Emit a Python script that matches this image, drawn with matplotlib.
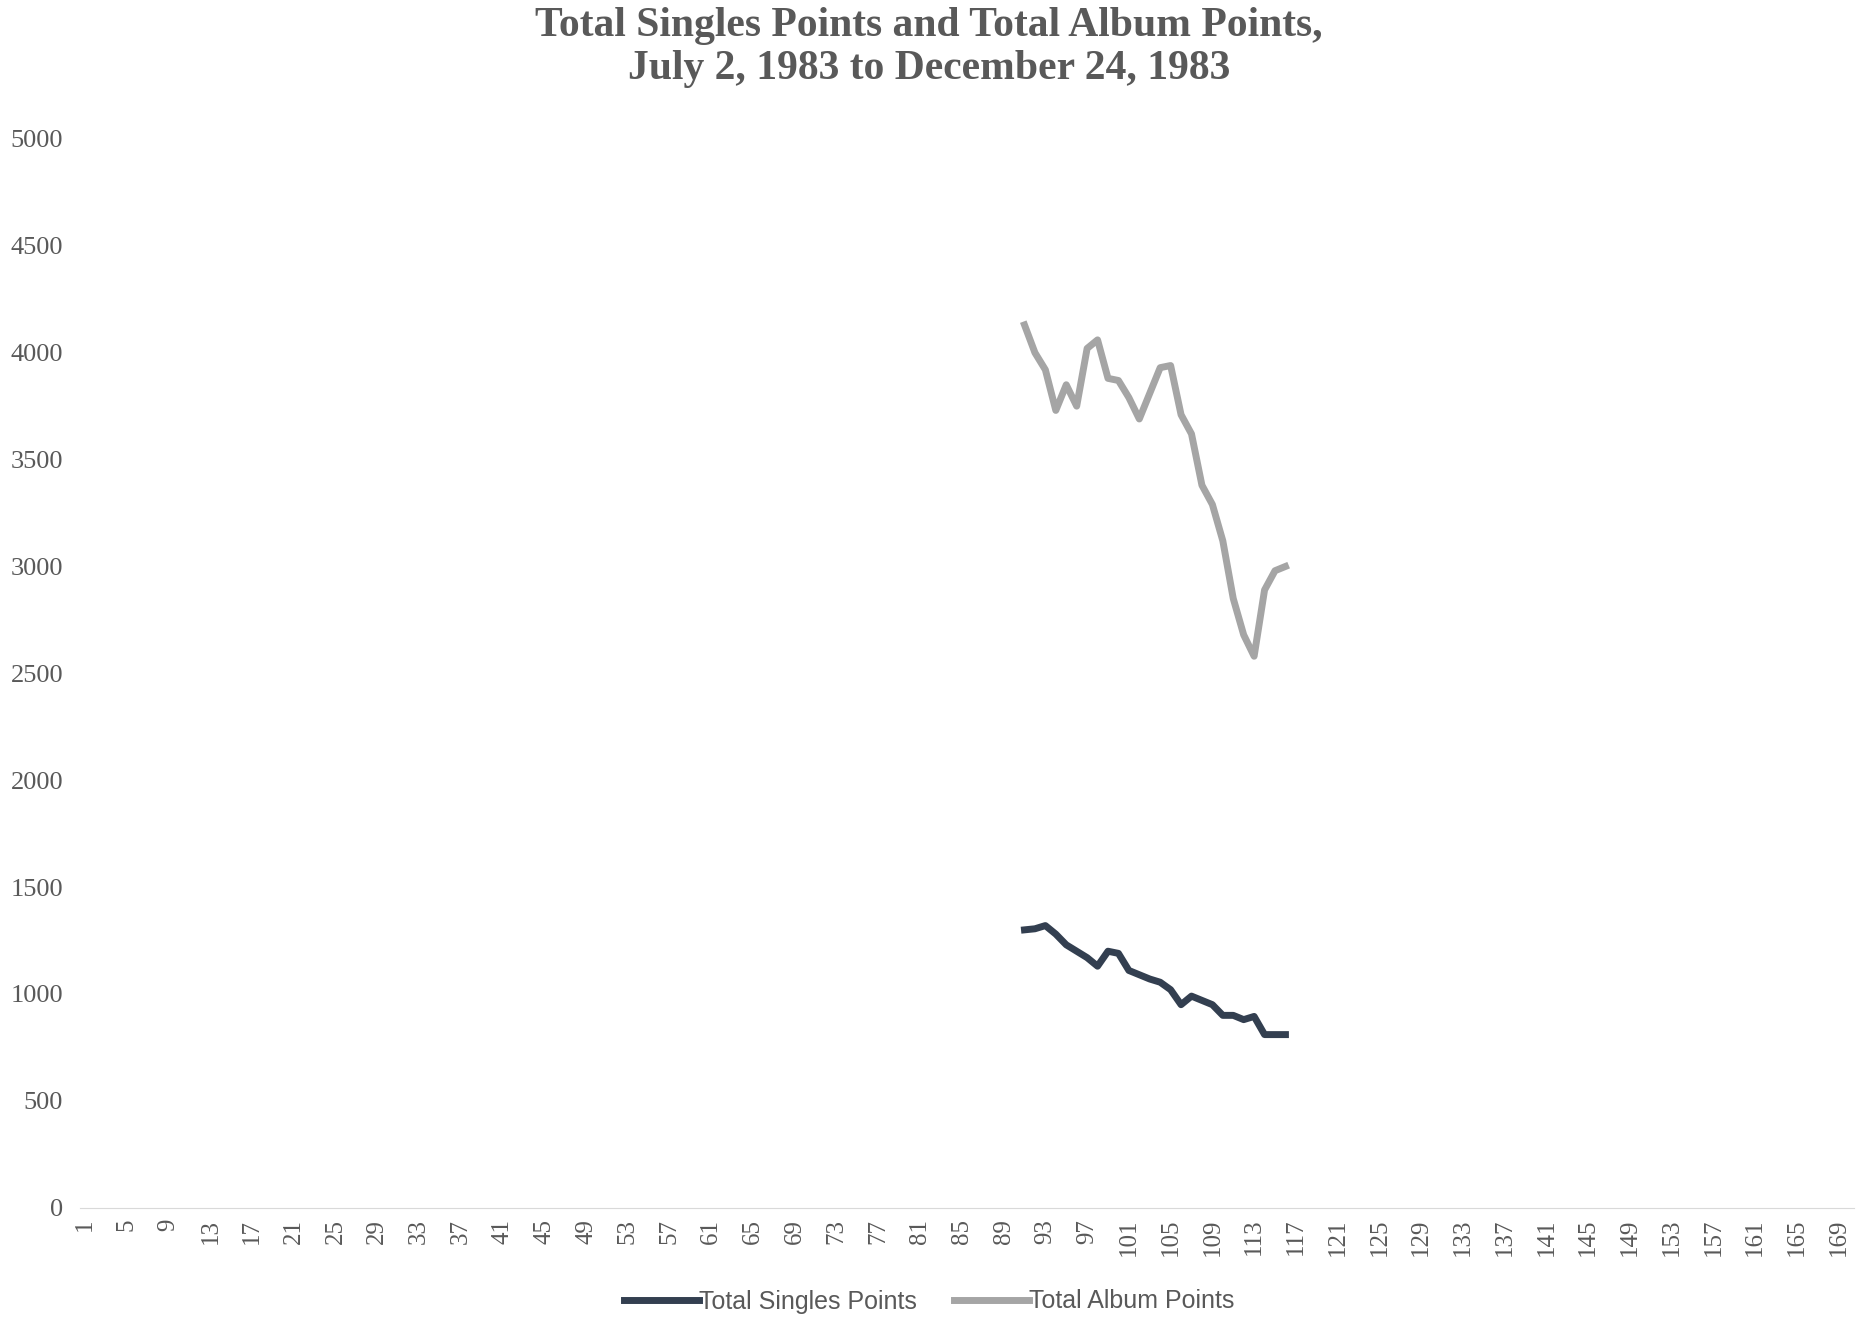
import matplotlib
matplotlib.use("Agg")
import matplotlib.pyplot as plt
import numpy as np

weeks = list(range(91, 117))
singles = [1300, 1305, 1320, 1280, 1230, 1200, 1170, 1130, 1200, 1190, 1110, 1090, 1070,
           1055, 1020, 950, 990, 970, 950, 900, 900, 880, 895, 810, 810, 810]
albums = [4130, 4000, 3920, 3730, 3850, 3750, 4020, 4060, 3880, 3870, 3790, 3690, 3810,
          3930, 3940, 3710, 3620, 3380, 3290, 3120, 2850, 2680, 2580, 2890, 2980, 3000]
categories = list(range(1, 171))
tick_labels = [str(c) for c in categories[::4]]

fig = plt.figure(figsize=(18.58, 13.36), dpi=100)
ax = fig.add_axes([0.043, 0.096, 0.955, 0.80])
ax.plot(weeks, singles, color="#333F50", lw=5, label="Total Singles Points", solid_joinstyle="round")
ax.plot(weeks, albums, color="#A5A5A5", lw=5, label="Total Album Points", solid_joinstyle="round")
ax.set_xlim(0.5, 170.5)
ax.set_ylim(0, 5000)
ax.set_yticks(range(0, 5001, 500))
ax.set_xticks(categories[::4])
ax.set_xticklabels(tick_labels, rotation=90, family="Liberation Serif", fontsize=18, color="#595959")
for t in ax.get_yticklabels():
    t.set_family("Liberation Serif"); t.set_fontsize(19); t.set_color("#595959")
for s in ["top", "right", "left"]:
    ax.spines[s].set_visible(False)
ax.spines["bottom"].set_color("#D9D9D9")
ax.tick_params(axis="y", length=0, pad=12)
ax.tick_params(axis="x", length=0, pad=8)
fig.suptitle("Total Singles Points and Total Album Points,\nJuly 2, 1983 to December 24, 1983",
             family="Liberation Serif", fontsize=30, fontweight="bold", color="#595959", y=0.995)
fig.legend(loc="lower center", bbox_to_anchor=(0.5, 0.0), ncol=2, frameon=False,
           prop={"family": "Liberation Sans", "size": 18}, labelcolor="#595959",
           handlelength=3, columnspacing=1.5, handletextpad=0)
fig.savefig("out.png", dpi=100)
